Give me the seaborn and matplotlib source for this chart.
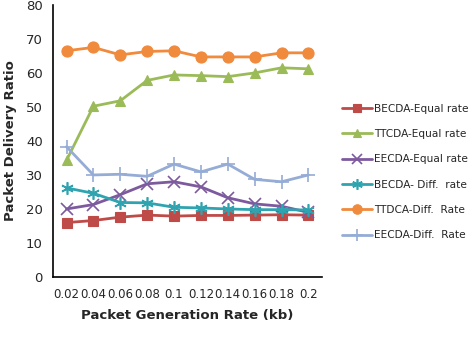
import matplotlib
matplotlib.use("Agg")
import matplotlib.pyplot as plt
import seaborn as sns
import pandas as pd
import numpy as np

rates = ["0.02", "0.04", "0.06", "0.08", "0.1", "0.12", "0.14", "0.16", "0.18", "0.2"]
becda_equal = [16.0, 16.6, 17.6, 18.2, 17.9, 18.1, 18.1, 18.2, 18.3, 18.2]
ttcda_equal = [34.3, 50.2, 51.8, 57.8, 59.4, 59.2, 58.9, 60.0, 61.5, 61.2]
eecda_equal = [20.0, 21.3, 24.2, 27.4, 28.0, 26.5, 23.3, 21.5, 20.8, 19.0]
becda_diff = [26.2, 24.6, 21.9, 21.8, 20.5, 20.3, 20.0, 19.8, 19.8, 19.7]
ttdca_diff = [66.5, 67.5, 65.3, 66.3, 66.5, 64.7, 64.7, 64.7, 65.9, 65.9]
eecda_diff = [38.3, 30.0, 30.2, 29.6, 33.2, 30.9, 33.2, 28.7, 28.0, 30.0]

names = ["BECDA-Equal rate", "TTCDA-Equal rate", "EECDA-Equal rate",
         "BECDA- Diff.  rate", "TTDCA-Diff.  Rate", "EECDA-Diff.  Rate"]
series = [becda_equal, ttcda_equal, eecda_equal, becda_diff, ttdca_diff, eecda_diff]
colors = ["#BE4B48", "#9BBB59", "#7D5A9E", "#2FA4B0", "#F08A3C", "#95ACD6"]
markers = ["s", "^", "x", (6, 2, 0), "o", "+"]
msizes = [7, 7, 8, 9, 8, 10]

rows = []
for n, s in zip(names, series):
    for i, v in enumerate(s):
        rows.append({"x": i, "y": v, "series": n})
df = pd.DataFrame(rows)

sns.set_style("white")
plt.rcParams['font.family'] = ['DejaVu Sans']

fig = plt.figure(figsize=(4.74, 3.48), dpi=100)
ax = fig.add_axes([0.112, 0.204, 0.567, 0.782])

for n, c, m, ms in zip(names, colors, markers, msizes):
    sub = df[df["series"] == n]
    sns.lineplot(data=sub, x="x", y="y", ax=ax, color=c, marker=m, markersize=ms,
                 linewidth=2.0, markeredgecolor=c, markeredgewidth=1.2 if m in ("x", "+", (6, 2, 0)) else 0.8,
                 label=n)

ax.set_xlim(-0.5, 9.5)
ax.set_ylim(0, 80)
ax.set_xticks(range(len(rates)))
ax.set_xticklabels(rates, fontsize=8.5)
ax.set_xticks(np.arange(-0.5, 10, 1), minor=True)
ax.tick_params(axis="x", which="major", length=0, pad=8)
ax.tick_params(axis="x", which="minor", length=4, width=1, direction="out", color="black")
ax.set_yticks(range(0, 81, 10))
ax.tick_params(axis="y", length=4, width=1, direction="out", color="black", labelsize=9.5)
for sp in ["top", "right"]:
    ax.spines[sp].set_visible(False)
for sp in ["left", "bottom"]:
    ax.spines[sp].set_color("black")
    ax.spines[sp].set_linewidth(1.2)
ax.set_xlabel("Packet Generation Rate (kb)", fontsize=9.5, fontweight="bold", labelpad=6)
ax.set_ylabel("Packet Delivery Ratio", fontsize=9.5, fontweight="bold", labelpad=6)

leg = ax.legend(loc="upper left", bbox_to_anchor=(1.06, 0.652), frameon=False,
                fontsize=7.6, handlelength=2.8, labelspacing=1.45, borderaxespad=0,
                handletextpad=0.2, markerscale=0.85)

fig.savefig("out.png", dpi=100)
